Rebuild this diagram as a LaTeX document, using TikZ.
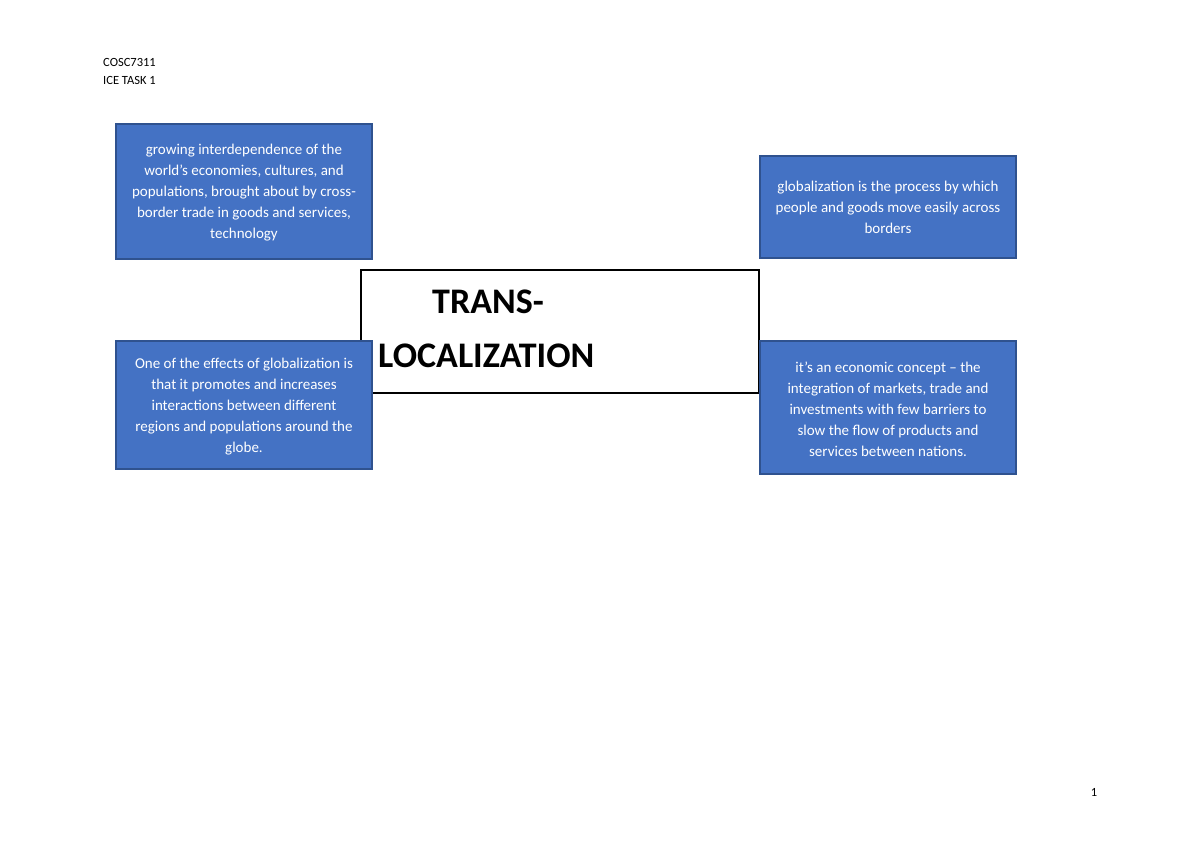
\documentclass[tikz,border=0pt]{standalone}
\usepackage{fontspec}
\setmainfont{Carlito}
\definecolor{bfill}{HTML}{4472C4}
\definecolor{bdraw}{HTML}{2F528F}
\begin{document}
\begin{tikzpicture}[x=1pt,y=-1pt,
 bluebox/.style={draw=bdraw,line width=1.2pt,fill=bfill},
 bluetext/.style={text=white,align=center,font=\fontsize{15}{21}\selectfont,inner sep=0pt},
 plain/.style={anchor=west,inner sep=0pt,font=\fontsize{12.5}{15}\selectfont}]
\useasboundingbox (0,0) rectangle (1200,848);
\node[plain] (h1) at (103,62) {COSC7311};
\node[plain] (h2) at (103,80) {ICE TASK 1};
\node[inner sep=0pt,font=\fontsize{12.5}{15}\selectfont] (pg) at (1094,792) {1};
\draw[line width=1.2pt,fill=white] (361,270) rectangle (759,393);
\node[anchor=west,inner sep=0pt,font=\bfseries\fontsize{36}{54}\selectfont,align=left] (c) at (378,329) {\hspace*{54pt}TRANS-\\LOCALIZATION};
\draw[bluebox] (116,124) rectangle (372,259);
\node[bluetext] (tl) at (244,193) {growing interdependence of the\\world’s economies, cultures, and\\populations, brought about by cross-\\border trade in goods and services,\\technology};
\draw[bluebox] (760,156) rectangle (1016,258);
\node[bluetext] (tr) at (888,207) {globalization is the process by which\\people and goods move easily across\\borders};
\draw[bluebox] (116,341) rectangle (372,469);
\node[bluetext] (bl) at (244,407) {One of the effects of globalization is\\that it promotes and increases\\interactions between different\\regions and populations around the\\globe.};
\draw[bluebox] (760,341) rectangle (1016,474);
\node[bluetext] (br) at (888,409) {it's an economic concept – the\\integration of markets, trade and\\investments with few barriers to\\slow the flow of products and\\services between nations.};
\end{tikzpicture}
\end{document}
